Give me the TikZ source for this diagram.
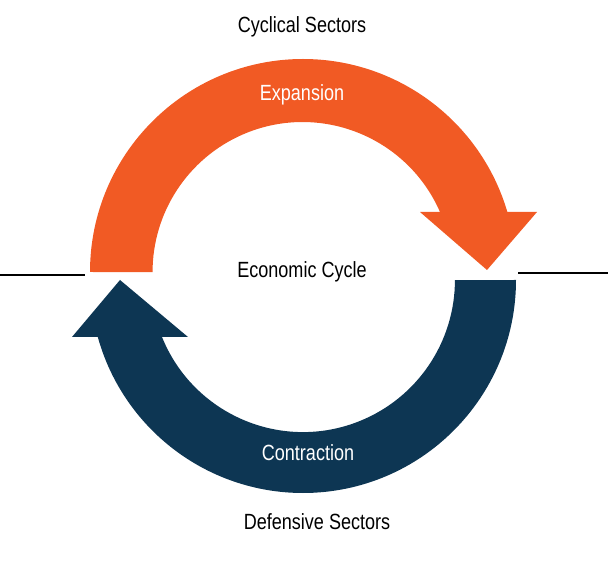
\documentclass[tikz,border=0pt]{standalone}
\usepackage{fontspec}
\setmainfont{Liberation Sans}[FakeStretch=0.82]
\definecolor{orng}{HTML}{F15A24}
\definecolor{navy}{HTML}{0D3653}
\begin{document}
\begin{tikzpicture}[x=1pt,y=1pt,
  lbl/.style={font=\fontsize{22}{24}\selectfont, inner sep=0pt},
  wlbl/.style={lbl, text=white}]
\useasboundingbox (0,0) rectangle (608,560);
% orange arrow
\fill[orng] (90,288) arc[start angle=180,end angle=16.4,radius=213]
  -- (537,348) -- (487,290) -- (420,348) -- (440,348)
  arc[start angle=23.6,end angle=180,radius=150] -- cycle;
% blue arrow
\fill[navy] (516,280) arc[start angle=0,end angle=-164.5,radius=213]
  -- (72,223) -- (120,280) -- (188,223) -- (162,223)
  arc[start angle=-158,end angle=0,radius=152] -- cycle;
% lines
\coordinate (l1) at (0,285); \coordinate (l2) at (85,285);
\coordinate (r1) at (518,287); \coordinate (r2) at (608,287);
\draw[line width=1.5pt] (l1) -- (l2);
\draw[line width=1.5pt] (r1) -- (r2);
% texts
\node[lbl] (cyc) at (302,533) {Cyclical Sectors};
\node[wlbl] (exp) at (302,465) {Expansion};
\node[lbl] (eco) at (302,288) {Economic Cycle};
\node[wlbl] (con) at (308,107) {Contraction};
\node[lbl] (def) at (317,38) {Defensive Sectors};
\end{tikzpicture}
\end{document}
